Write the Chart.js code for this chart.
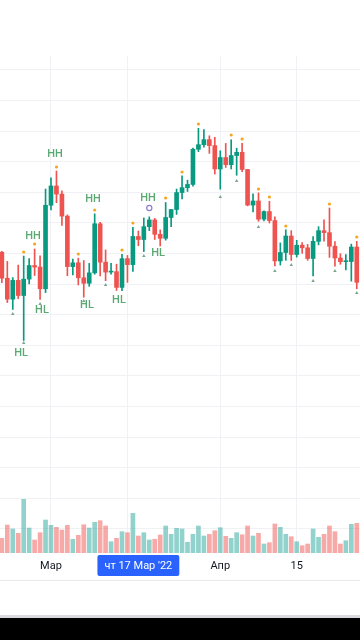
<!DOCTYPE html>
<html><head><meta charset="utf-8">
<script src="https://cdn.jsdelivr.net/npm/chart.js@4.4.1/dist/chart.umd.min.js"></script>
<style>
html,body{margin:0;padding:0;background:#000;}
#wrap{position:relative;width:360px;height:615px;background:#fff;border-bottom:3px solid #d9dbe1;}
#cv{position:absolute;left:0;top:0;}
#sep{position:absolute;left:0;top:580px;width:360px;height:1px;background:#e8e9ec;}
</style></head><body>
<div id="wrap"><canvas id="cv" width="360" height="580"></canvas><div id="sep"></div></div>
<script>
// ---- data (BTC daily) ----
const dates = ['2022-02-20','2022-02-21','2022-02-22','2022-02-23','2022-02-24','2022-02-25','2022-02-26','2022-02-27','2022-02-28',
'2022-03-01','2022-03-02','2022-03-03','2022-03-04','2022-03-05','2022-03-06','2022-03-07','2022-03-08','2022-03-09','2022-03-10',
'2022-03-11','2022-03-12','2022-03-13','2022-03-14','2022-03-15','2022-03-16','2022-03-17','2022-03-18','2022-03-19','2022-03-20',
'2022-03-21','2022-03-22','2022-03-23','2022-03-24','2022-03-25','2022-03-26','2022-03-27','2022-03-28','2022-03-29','2022-03-30','2022-03-31',
'2022-04-01','2022-04-02','2022-04-03','2022-04-04','2022-04-05','2022-04-06','2022-04-07','2022-04-08','2022-04-09','2022-04-10',
'2022-04-11','2022-04-12','2022-04-13','2022-04-14','2022-04-15','2022-04-16','2022-04-17','2022-04-18','2022-04-19','2022-04-20',
'2022-04-21','2022-04-22','2022-04-23','2022-04-24','2022-04-25','2022-04-26'];
const open  = [40090,38390,37020,38250,37260,38330,39220,39120,37700,43160,44420,43890,42450,39150,39400,38420,38060,38740,41950,39440,
38790,38820,37790,39670,39280,41120,40920,41760,42200,41260,41000,42360,42880,43990,44310,44520,46820,47120,47450,47060,
45530,46280,45810,46410,46620,45500,43170,43440,42250,42750,42160,39520,40070,41150,39940,40550,40380,39680,40800,41500,
41370,40480,39710,39470,39480,40430];
const high  = [40150,39490,38430,39250,39840,39680,40300,39850,44220,44950,45400,44100,42530,39640,39700,39550,39360,42600,42050,40240,
39360,39310,39950,39880,41720,41480,42330,42400,42300,41550,43340,42900,44220,45090,44800,46900,48190,48100,47700,47600,
46720,47200,47440,46890,47200,45500,43900,43970,42800,43420,42410,40700,41560,41500,40870,40720,40600,41120,41760,42200,
42980,40790,39990,39940,40620,40800];
const low   = [38100,36800,36350,37050,34320,38010,38570,37000,37450,42850,43330,41840,38550,38600,37950,37150,37860,38650,38540,38230,
38660,37590,37570,38120,38830,40510,40130,41500,40920,40500,40880,41760,42560,43580,44060,44400,46660,46950,46550,45200,
44210,45630,45530,45120,45350,43120,42730,42110,42130,42000,39200,39250,39560,39550,39770,40020,39560,38540,40570,40820,
39750,39180,39300,38930,38200,37700];
const close = [38390,37020,38250,37260,38330,39220,39120,37700,43160,44420,43890,42450,39150,39400,38420,38060,38740,41950,39440,38790,
38820,37790,39670,39280,41120,40920,41760,42200,41260,41000,42360,42880,43990,44310,44520,46820,47120,47450,47060,45530,
46280,45810,46410,46620,45500,43170,43440,42250,42750,42160,39520,40070,41150,39940,40550,40380,39680,40800,41500,41370,
40480,39710,39470,39480,40430,38120];
const volume = [14700,28000,24000,19700,53700,25000,13000,20300,33000,27700,25700,23000,27700,13700,17700,28300,25000,30700,32300,27000,
11300,14700,21300,20300,39700,17000,20300,13000,13700,18000,27000,18700,24700,24000,10700,18700,27000,17000,18700,22300,
25300,16700,14700,20300,18300,27000,17000,19700,9000,10300,29000,25700,18700,16300,11300,7300,9000,24000,15700,18700,
27000,21300,9000,12300,28700,29700];
// pivot markers (index into dates, price)
const pivotHighIdx   = [4,6,10,14,17,22,24,30,33,36,42,44,47,49,52,60,65];
const pivotHighPrice = [40105,40627,45660,39974,42850,40235,42000,43634,45333,48471,47752,47490,44222,43699,41804,43242,41085];
const pivotLowIdx    = [2,4,7,15,19,26,40,43,47,50,53,57,61,65];
const pivotLowPrice  = [36052,34157,36706,36900,37948,39843,43700,44745,41739,38863,39255,38209,38863,37425];
// HH / HL text labels (position along dates, price)
const labelText  = ['HH','HH','HL','HL','HH','HL','HL','HH','HL'];
const labelIdx   = [9.73,5.70,3.51,7.35,16.69,15.59,21.45,26.77,28.60];
const labelPrice = [46510,41150,33503,36314,43569,36641,36967,43634,40039];
// marked point
const circleIdx = 27, circlePrice = 42980;
// axis ticks
const timeTickIdx = [9,23,40,54];
const timeTickLabels = ['Мар','15','Апр','15'];
const priceTicks = [22000,24000,26000,28000,30000,32000,34000,36000,38000,40000,42000,44000,46000,48000,50000,52000];
const crossIdx = 25, crossText = "чт 17 Мар '22";

const UP='#089981', DN='#ef5350', UPV='rgba(38,166,154,0.5)', DNV='rgba(239,83,80,0.5)';
const isUp = open.map((o,i)=>close[i]>=o);
const idx = dates.map((d,i)=>i);

const overlay = {
  id:'overlay',
  afterDatasetsDraw(chart){
    const {ctx, scales:{x,y}, chartArea} = chart;
    ctx.save();
    ctx.font = '500 11px Roboto, "Liberation Sans", sans-serif';
    ctx.fillStyle = '#5aa872';
    ctx.textAlign='center'; ctx.textBaseline='middle';
    labelText.forEach((t,i)=>ctx.fillText(t, x.getPixelForValue(labelIdx[i]), y.getPixelForValue(labelPrice[i])));
    // crosshair date label
    ctx.font = '11px Roboto, "Liberation Sans", sans-serif';
    const cx = x.getPixelForValue(crossIdx);
    const w = ctx.measureText(crossText).width + 14;
    const top = chartArea.bottom + 2, h = 21;
    ctx.fillStyle = '#2962ff';
    ctx.beginPath();
    if (ctx.roundRect) ctx.roundRect(cx - w/2, top, w, h, 2); else ctx.rect(cx-w/2, top, w, h);
    ctx.fill();
    ctx.fillStyle = '#fff';
    ctx.fillText(crossText, cx, top + h/2 + 0.5);
    ctx.restore();
  }
};

new Chart(document.getElementById('cv'), {
  type:'bar',
  data:{ datasets:[
    { type:'line', showLine:false, data: pivotHighIdx.map((v,i)=>({x:v,y:pivotHighPrice[i]})),
      pointRadius:1.6, pointBackgroundColor:'#f5a623', pointBorderWidth:0, order:0, yAxisID:'y' },
    { type:'line', showLine:false, data: pivotLowIdx.map((v,i)=>({x:v,y:pivotLowPrice[i]})),
      pointStyle:'triangle', pointRadius:2, pointBackgroundColor:'#7aa68c', pointBorderWidth:0, order:0, yAxisID:'y' },
    { type:'line', showLine:false, data:[{x:circleIdx,y:circlePrice}],
      pointRadius:2.6, pointBackgroundColor:'rgba(255,255,255,0.8)', pointBorderColor:'#8e7cd0', pointBorderWidth:1.2, order:0, yAxisID:'y' },
    { data: idx.map(i=>({x:i, y:[open[i], close[i]]})), backgroundColor: isUp.map(u=>u?UP:DN),
      barThickness:4, minBarLength:1, grouped:false, order:1, yAxisID:'y' },
    { data: idx.map(i=>({x:i, y:[low[i], high[i]]})), backgroundColor: isUp.map(u=>u?UP:DN),
      barThickness:1, grouped:false, order:2, yAxisID:'y' },
    { data: idx.map(i=>({x:i, y:volume[i]})), backgroundColor: isUp.map(u=>u?UPV:DNV),
      barThickness:4, grouped:false, order:3, yAxisID:'vol' }
  ]},
  options:{
    responsive:false, animation:false, devicePixelRatio:1, events:[],
    layout:{autoPadding:false, padding:{top:56,left:0,right:0,bottom:0}},
    plugins:{legend:{display:false}, tooltip:{enabled:false}},
    scales:{
      x:{ type:'linear', min:-0.34, max:65.59, offset:false,
          grid:{color:'#eff1f4', drawTicks:false, offset:false}, border:{display:false},
          afterBuildTicks(s){ s.ticks = timeTickIdx.map(v=>({value:v})); },
          ticks:{ autoSkip:false, maxRotation:0, padding:7, color:'#131722',
                  font:{size:11, family:'Roboto, "Liberation Sans", sans-serif'},
                  callback:(v,i)=>timeTickLabels[i] },
          afterFit(s){ s.height = 27; s.paddingLeft = 0; s.paddingRight = 0; } },
      y:{ position:'right', min:20431, max:52915,
          afterBuildTicks(s){ s.ticks = priceTicks.map(v=>({value:v})); },
          grid:{color:'#eff1f4', drawTicks:false}, border:{display:false},
          ticks:{display:false}, afterFit(s){ s.width = 0; } },
      vol:{ position:'left', display:false, min:0, max:497000 }
    }
  },
  plugins:[overlay]
});
</script>
</body></html>
